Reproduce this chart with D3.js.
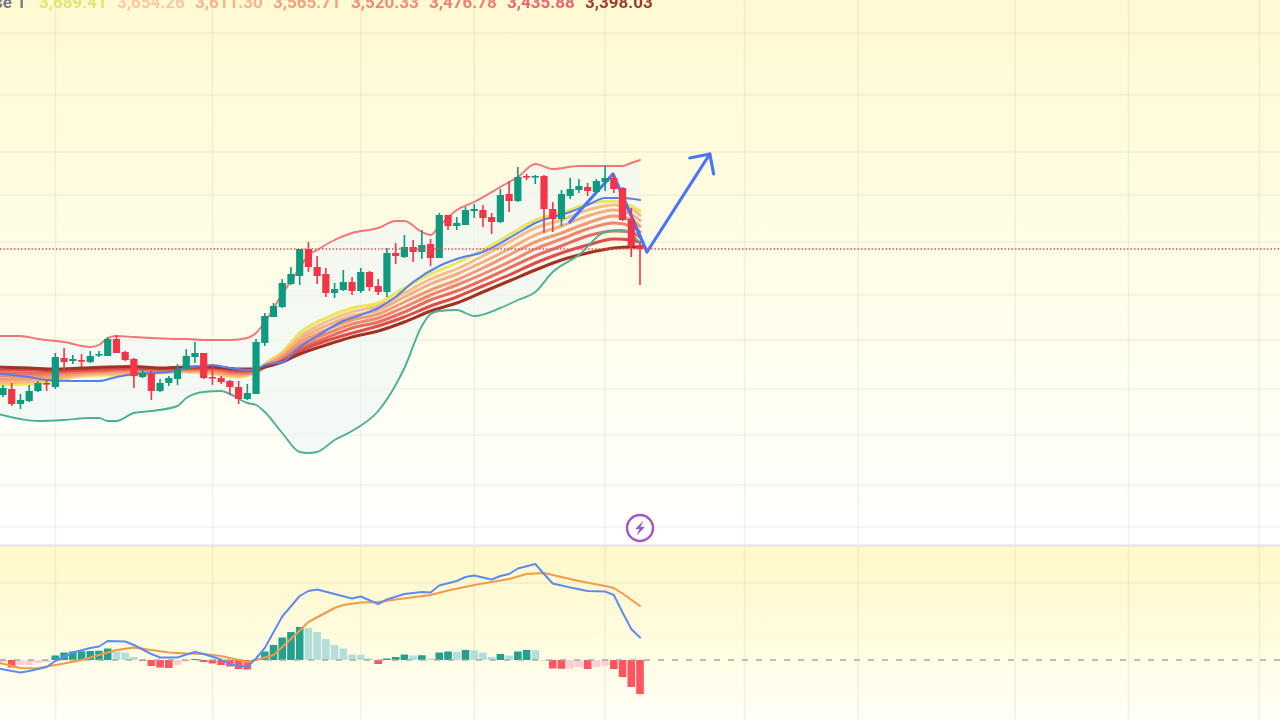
<!DOCTYPE html>
<html>
<head>
<meta charset="utf-8">
<script src="https://cdn.jsdelivr.net/npm/d3@7"></script>
<style>
  html, body { margin: 0; padding: 0; background: #fff; overflow: hidden; }
  svg { display: block; }
  text { font-family: Roboto, sans-serif; }
</style>
</head>
<body>
<svg id="container" width="1280" height="720"></svg>
<script>
// candles, one entry per session
const opens = [2216,2264,2144,2168,2248,2312,2280,2512,2488,2496,2480,2536,2528,2664,2560,2504,2360,2384,2248,2312,2344,2424,2520,2552,2360,2352,2328,2280,2184,2224,2632,2840,2920,3104,3168,3384,3240,3184,3032,3056,3120,3048,3200,3088,3040,3352,3320,3400,3360,3424,3312,3656,3568,3576,3688,3696,3640,3600,3824,3768,3968,3960,3968,3704,3624,3808,3856,3880,3840,3920,3952,3872,3624,3416];
const highs = [2296,2312,2224,2296,2328,2336,2552,2592,2536,2544,2568,2568,2680,2696,2568,2512,2432,2408,2344,2368,2464,2584,2640,2552,2456,2368,2336,2328,2304,2664,2872,2952,3144,3240,3384,3440,3328,3232,3112,3216,3160,3232,3208,3144,3392,3432,3496,3456,3536,3464,3672,3656,3640,3720,3744,3736,3672,3864,3928,4040,3984,3976,3976,3760,3856,3952,3944,3912,3944,4048,3984,3880,3712,3432];
const lows = [2200,2128,2104,2160,2240,2248,2264,2416,2464,2440,2472,2520,2528,2552,2488,2272,2352,2176,2240,2288,2296,2416,2472,2344,2296,2304,2216,2144,2176,2224,2608,2840,2912,3096,3096,3200,3104,3000,2992,3048,3016,3032,3048,3016,3000,3264,3312,3280,3304,3248,3312,3536,3536,3576,3632,3560,3504,3592,3680,3760,3936,3904,3512,3520,3568,3784,3832,3808,3832,3848,3832,3608,3320,3096];
const closes = [2272,2144,2176,2248,2312,2304,2520,2480,2504,2488,2528,2544,2664,2552,2496,2368,2392,2248,2312,2352,2424,2528,2552,2352,2352,2320,2280,2184,2232,2640,2848,2928,3112,3184,3384,3240,3168,3032,3064,3120,3048,3200,3080,3040,3352,3328,3400,3360,3416,3312,3656,3568,3592,3696,3704,3632,3600,3816,3768,3960,3960,3968,3704,3624,3824,3864,3888,3848,3928,3952,3864,3616,3408,3384];

// bollinger bands
const bandIdx = [-1,2,4,7,10,11,12,13,15,17,20,21,23,25,26,28,29,30,32,34,35,36,38,40,43,45,46,48,49,50,52,54,57,59,61,63,66,69,71,72,73];
const bandUpper = [2688,2688,2664,2640,2600,2616,2672,2688,2680,2672,2664,2664,2656,2656,2656,2672,2712,2800,3024,3232,3336,3376,3456,3512,3552,3608,3608,3520,3496,3568,3696,3760,3880,3960,4064,4024,4048,4048,4048,4072,4096];
const bandLower = [2072,2024,2008,2016,2032,2032,2008,2008,2072,2088,2128,2192,2240,2248,2224,2152,2136,2080,1912,1760,1752,1760,1856,1928,2088,2296,2432,2768,2864,2888,2896,2848,2912,2976,3040,3200,3336,3520,3536,3504,3432];

// band basis
const basisIdx = [-1,2,3,5,8,11,13,15,17,19,21,23,24,26,28,29,30,32,34,36,39,41,43,45,47,50,52,55,59,61,65,67,69,71,73];
const basis = [2392,2368,2360,2336,2328,2328,2360,2384,2392,2400,2432,2448,2456,2432,2416,2424,2456,2480,2600,2688,2808,2856,2912,3000,3120,3248,3304,3360,3512,3592,3680,3736,3792,3792,3776];

// ema ribbon, fastest first
const ribbonIdx = [-1,3,6,9,12,15,18,21,24,27,29,30,32,34,37,40,43,46,49,52,55,58,61,64,67,70,72,73];
const ema1 = [2296,2304,2328,2368,2376,2376,2392,2400,2384,2360,2400,2464,2560,2712,2832,2912,2952,3072,3184,3272,3376,3496,3616,3672,3744,3768,3728,3689];
const ema2 = [2312,2320,2344,2376,2384,2384,2400,2408,2392,2368,2400,2456,2544,2680,2800,2880,2928,3032,3144,3224,3328,3440,3552,3616,3696,3736,3704,3654];
const ema3 = [2328,2336,2352,2384,2392,2400,2400,2408,2400,2376,2400,2448,2528,2656,2768,2848,2896,3000,3104,3184,3280,3384,3496,3568,3648,3696,3664,3611];
const ema4 = [2344,2352,2368,2392,2400,2408,2408,2416,2408,2384,2400,2448,2520,2632,2736,2816,2864,2960,3056,3136,3232,3336,3440,3512,3592,3648,3616,3566];
const ema5 = [2368,2376,2384,2400,2408,2416,2416,2424,2416,2392,2400,2440,2504,2608,2704,2784,2832,2920,3016,3096,3184,3280,3384,3464,3544,3592,3568,3520];
const ema6 = [2392,2392,2400,2408,2416,2424,2416,2424,2424,2400,2408,2440,2496,2584,2672,2752,2800,2880,2976,3048,3136,3232,3328,3408,3488,3528,3520,3477];
const ema7 = [2416,2416,2408,2416,2424,2432,2424,2432,2432,2408,2416,2440,2488,2568,2648,2712,2768,2840,2928,3000,3088,3176,3272,3352,3416,3464,3456,3436];
const ema8 = [2440,2432,2424,2432,2440,2444,2432,2440,2440,2424,2424,2440,2480,2544,2616,2680,2728,2800,2888,2952,3040,3128,3216,3296,3352,3392,3400,3398];
const ribbonColors = ['#ede45e','#f6be88','#f5ae7c','#f29b72','#f0866a','#ec6c5c','#de4e48','#a23020'];

const legendValues = ['3,689.41','3,654.26','3,611.30','3,565.71','3,520.33','3,476.78','3,435.88','3,398.03'];
const legendColors = ['#e6e36e','#f8c9a4','#f6b48f','#f3a17e','#f08c72','#f47f70','#f0626e','#9e3a2c'];

// macd pane
const histogram = [-4,-15,-10,-10,-6,-4,9,15,17,17.5,18,18.5,23,17,15,6,-2,-12,-15,-16,-10,-3,2,-4,-7,-10,-13,-18,-19,1,17,30,45,56,66,64,56,42,30,23,11,10.5,3,-8,3,6,11,9,9.5,3,15,17,16.5,20,19.5,15,6,12,9,17,20,19.5,-0.5,-17,-17.5,-17,-14,-18,-14,-12,-18,-34,-54,-68];
const macdIdx = [-1,1,2,3,5,6,8,10,11,12,14,15,17,18,20,21,22,23,25,26,28,29,30,32,34,35,36,38,40,41,43,44,46,48,49,50,52,53,54,56,57,58,59,61,62,63,65,67,69,70,71,72,73];
const macdLine = [-15,-22,-25,-22,-14,-2,15,24,27,38,37,30,12,5,5,11,16,12,1,-9,-14,3,24,87,128,138,141,132,123,127,112,121,132,136,135,149,158,166,169,161,168,172,183,192,172,153,145,138,137,130,95,62,45];
const signalIdx = [-1,2,4,5,7,9,11,13,15,17,19,21,23,25,26,28,29,31,33,35,38,39,41,43,45,49,51,54,58,60,62,63,66,69,70,71,73];
const signalLine = [-3,-16,-17,-13,-7,0,10,20,25,20,15,13,12,8,4,-4,0,10,42,76,104,110,115,116,121,130,139,150,162,172,174,170,158,148,144,133,108];

// hand drawn arrow and alert marker
const arrowIdx = [64.95,69.9,73.8,81];
const arrowPrice = [3600,3984,3360,4144];
const arrowHeadIdx = [78.7,81,81.44];
const arrowHeadPrice = [4112,4144,3984];
const alertIdx = 73;
const alertPrice = 1152;

// grid
const timeTicks = [6,24,41,54,69,85,98,116,129,144];
const priceTicks = [5112,4616,4160,3816,3440,3016,2656,2264,1896,1496,1160];
const macdTicks = [154];

const svg = d3.select('#container');
const WIDTH = +svg.attr('width');
const HEIGHT = +svg.attr('height');
const PANE_SPLIT = 546;

const x = d3.scaleLinear().domain([0, 73]).range([3, 640]);
const y = d3.scaleLinear().domain([1016, 5376]).range([545, 0]);
const yMacd = d3.scaleLinear().domain([-120, 226]).range([720, 547]);

const defs = svg.append('defs');
const addGradient = (id, stops) => {
  const g = defs.append('linearGradient').attr('id', id).attr('x1', 0).attr('x2', 0).attr('y1', 0).attr('y2', 1);
  stops.forEach(([o, c]) => g.append('stop').attr('offset', o).attr('stop-color', c));
};
addGradient('bgPrice', [[0, '#fffad2'], [0.5, '#fffde8'], [0.72, '#fffff3'], [1, '#ffffff']]);
addGradient('bgMacd', [[0, '#fff8c8'], [0.65, '#fffde4'], [1, '#fffef7']]);
defs.append('filter').attr('id', 'soft').append('feGaussianBlur').attr('stdDeviation', 0.75);
defs.append('clipPath').attr('id', 'macdClip').append('rect')
  .attr('x', 0).attr('y', PANE_SPLIT).attr('width', WIDTH).attr('height', HEIGHT - PANE_SPLIT);

svg.append('rect').attr('width', WIDTH).attr('height', PANE_SPLIT).attr('fill', 'url(#bgPrice)');
svg.append('rect').attr('y', PANE_SPLIT).attr('width', WIDTH).attr('height', HEIGHT - PANE_SPLIT).attr('fill', 'url(#bgMacd)');

const chart = svg.append('g').attr('filter', 'url(#soft)');

// grid lines
const GRID = 'rgba(140,140,120,0.11)';
chart.selectAll('line.v').data(timeTicks).join('line').attr('class', 'v')
  .attr('x1', x).attr('x2', x).attr('y1', 0).attr('y2', HEIGHT)
  .attr('stroke', GRID).attr('stroke-width', 1.6);
chart.selectAll('line.h').data(priceTicks).join('line').attr('class', 'h')
  .attr('x1', 0).attr('x2', WIDTH).attr('y1', y).attr('y2', y)
  .attr('stroke', GRID).attr('stroke-width', 1.6);
chart.selectAll('line.m').data(macdTicks).join('line').attr('class', 'm')
  .attr('x1', 0).attr('x2', WIDTH).attr('y1', yMacd).attr('y2', yMacd)
  .attr('stroke', GRID).attr('stroke-width', 1.6);
chart.append('line').attr('x1', 0).attr('x2', WIDTH).attr('y1', PANE_SPLIT - 0.5).attr('y2', PANE_SPLIT - 0.5)
  .attr('stroke', '#e4e4e4').attr('stroke-width', 2);

// bands
const zip = (idx, vals) => idx.map((d, i) => [d, vals[i]]);
const pxLine = d3.line().x(d => x(d[0])).y(d => y(d[1])).curve(d3.curveMonotoneX);
const macdPath = d3.line().x(d => x(d[0])).y(d => yMacd(d[1]));

chart.append('path')
  .datum(bandIdx.map((d, i) => [d, bandUpper[i], bandLower[i]]))
  .attr('d', d3.area().x(d => x(d[0])).y0(d => y(d[2])).y1(d => y(d[1])).curve(d3.curveMonotoneX))
  .attr('fill', '#ecf5f5').attr('fill-opacity', 0.6);

const addLine = (g, gen, data, color, width) => g.append('path').datum(data)
  .attr('d', gen).attr('fill', 'none').attr('stroke', color).attr('stroke-width', width)
  .attr('stroke-linejoin', 'round').attr('stroke-linecap', 'round');

// ribbon, slowest drawn last
[ema1, ema2, ema3, ema4, ema5, ema6, ema7, ema8].forEach((vals, i) => {
  addLine(chart, pxLine, zip(ribbonIdx, vals), ribbonColors[i], i === 7 ? 3 : 3);
});

// band lines and basis go over the ribbon
addLine(chart, pxLine, zip(bandIdx, bandUpper), '#f47476', 1.9);
addLine(chart, pxLine, zip(bandIdx, bandLower), '#4cb096', 1.9);
addLine(chart, pxLine, zip(basisIdx, basis), '#5580ee', 2);

// arrow sits under the candles
const straight = d3.line().x(d => x(d[0])).y(d => y(d[1]));
addLine(chart, straight, zip(arrowIdx, arrowPrice), '#4676f6', 3.2);
addLine(chart, straight, zip(arrowHeadIdx, arrowHeadPrice), '#4676f6', 3.2);

// candles
const UP = '#0b9a7e';
const DOWN = '#f43448';
const BODY_WIDTH = 7.2;
const candles = chart.selectAll('g.candle').data(d3.range(opens.length)).join('g').attr('class', 'candle')
  .attr('fill', i => closes[i] >= opens[i] ? UP : DOWN)
  .attr('stroke', i => closes[i] >= opens[i] ? UP : DOWN);
candles.append('line')
  .attr('x1', x).attr('x2', x)
  .attr('y1', i => y(highs[i])).attr('y2', i => y(lows[i]))
  .attr('stroke-width', 1.6);
candles.append('rect')
  .attr('x', i => x(i) - BODY_WIDTH / 2).attr('width', BODY_WIDTH)
  .attr('y', i => y(Math.max(opens[i], closes[i])))
  .attr('height', i => Math.max(1.6, y(Math.min(opens[i], closes[i])) - y(Math.max(opens[i], closes[i]))))
  .attr('stroke', 'none');

// last price line
chart.append('line').attr('x1', 0).attr('x2', WIDTH)
  .attr('y1', y(closes[closes.length - 1])).attr('y2', y(closes[closes.length - 1]))
  .attr('stroke', '#f04a55').attr('stroke-width', 1.4).attr('stroke-dasharray', '1.5 2');

// alert marker
const alert = chart.append('g').attr('transform', `translate(${x(alertIdx)},${y(alertPrice)})`);
alert.append('circle').attr('r', 13).attr('fill', '#fff').attr('stroke', '#a455c6').attr('stroke-width', 2.4);
alert.append('path').attr('d', 'M3.5,-7.5 L-5,1 L-0.5,1 L-3.5,7.5 L5,-1 L0.5,-1 Z').attr('fill', '#a455c6');

// histogram, tint follows direction of change
const histColor = i => {
  const rising = i === 0 || histogram[i] >= histogram[i - 1];
  if (histogram[i] >= 0) return rising ? '#26a08e' : '#b2dfdb';
  return rising ? '#ffcdd2' : '#ff5560';
};
chart.selectAll('rect.hist').data(d3.range(histogram.length)).join('rect').attr('class', 'hist')
  .attr('x', i => x(i) - 3.8).attr('width', 7.6)
  .attr('y', i => Math.min(yMacd(histogram[i]), yMacd(0)))
  .attr('height', i => Math.abs(yMacd(histogram[i]) - yMacd(0)))
  .attr('fill', histColor);

chart.append('line').attr('x1', 0).attr('x2', WIDTH).attr('y1', yMacd(0)).attr('y2', yMacd(0))
  .attr('stroke', '#aaaaa6').attr('stroke-width', 1.3).attr('stroke-dasharray', '6 8');

const macdG = chart.append('g').attr('clip-path', 'url(#macdClip)');
addLine(macdG, macdPath, zip(signalIdx, signalLine), '#f59a4a', 2);
addLine(macdG, macdPath, zip(macdIdx, macdLine), '#5f8bef', 2);

// legend row, cut by the top edge
const legend = svg.append('g').attr('filter', 'url(#soft)').attr('font-size', 17).attr('font-weight', 700);
legend.append('text').attr('x', 26).attr('y', 8).attr('text-anchor', 'end').attr('fill', '#787b86').text('Close 1');
legend.selectAll('text.val').data(legendValues).join('text').attr('class', 'val')
  .attr('x', (d, i) => 39 + i * 78).attr('y', 8)
  .attr('fill', (d, i) => legendColors[i])
  .text(d => d);
</script>
</body>
</html>
